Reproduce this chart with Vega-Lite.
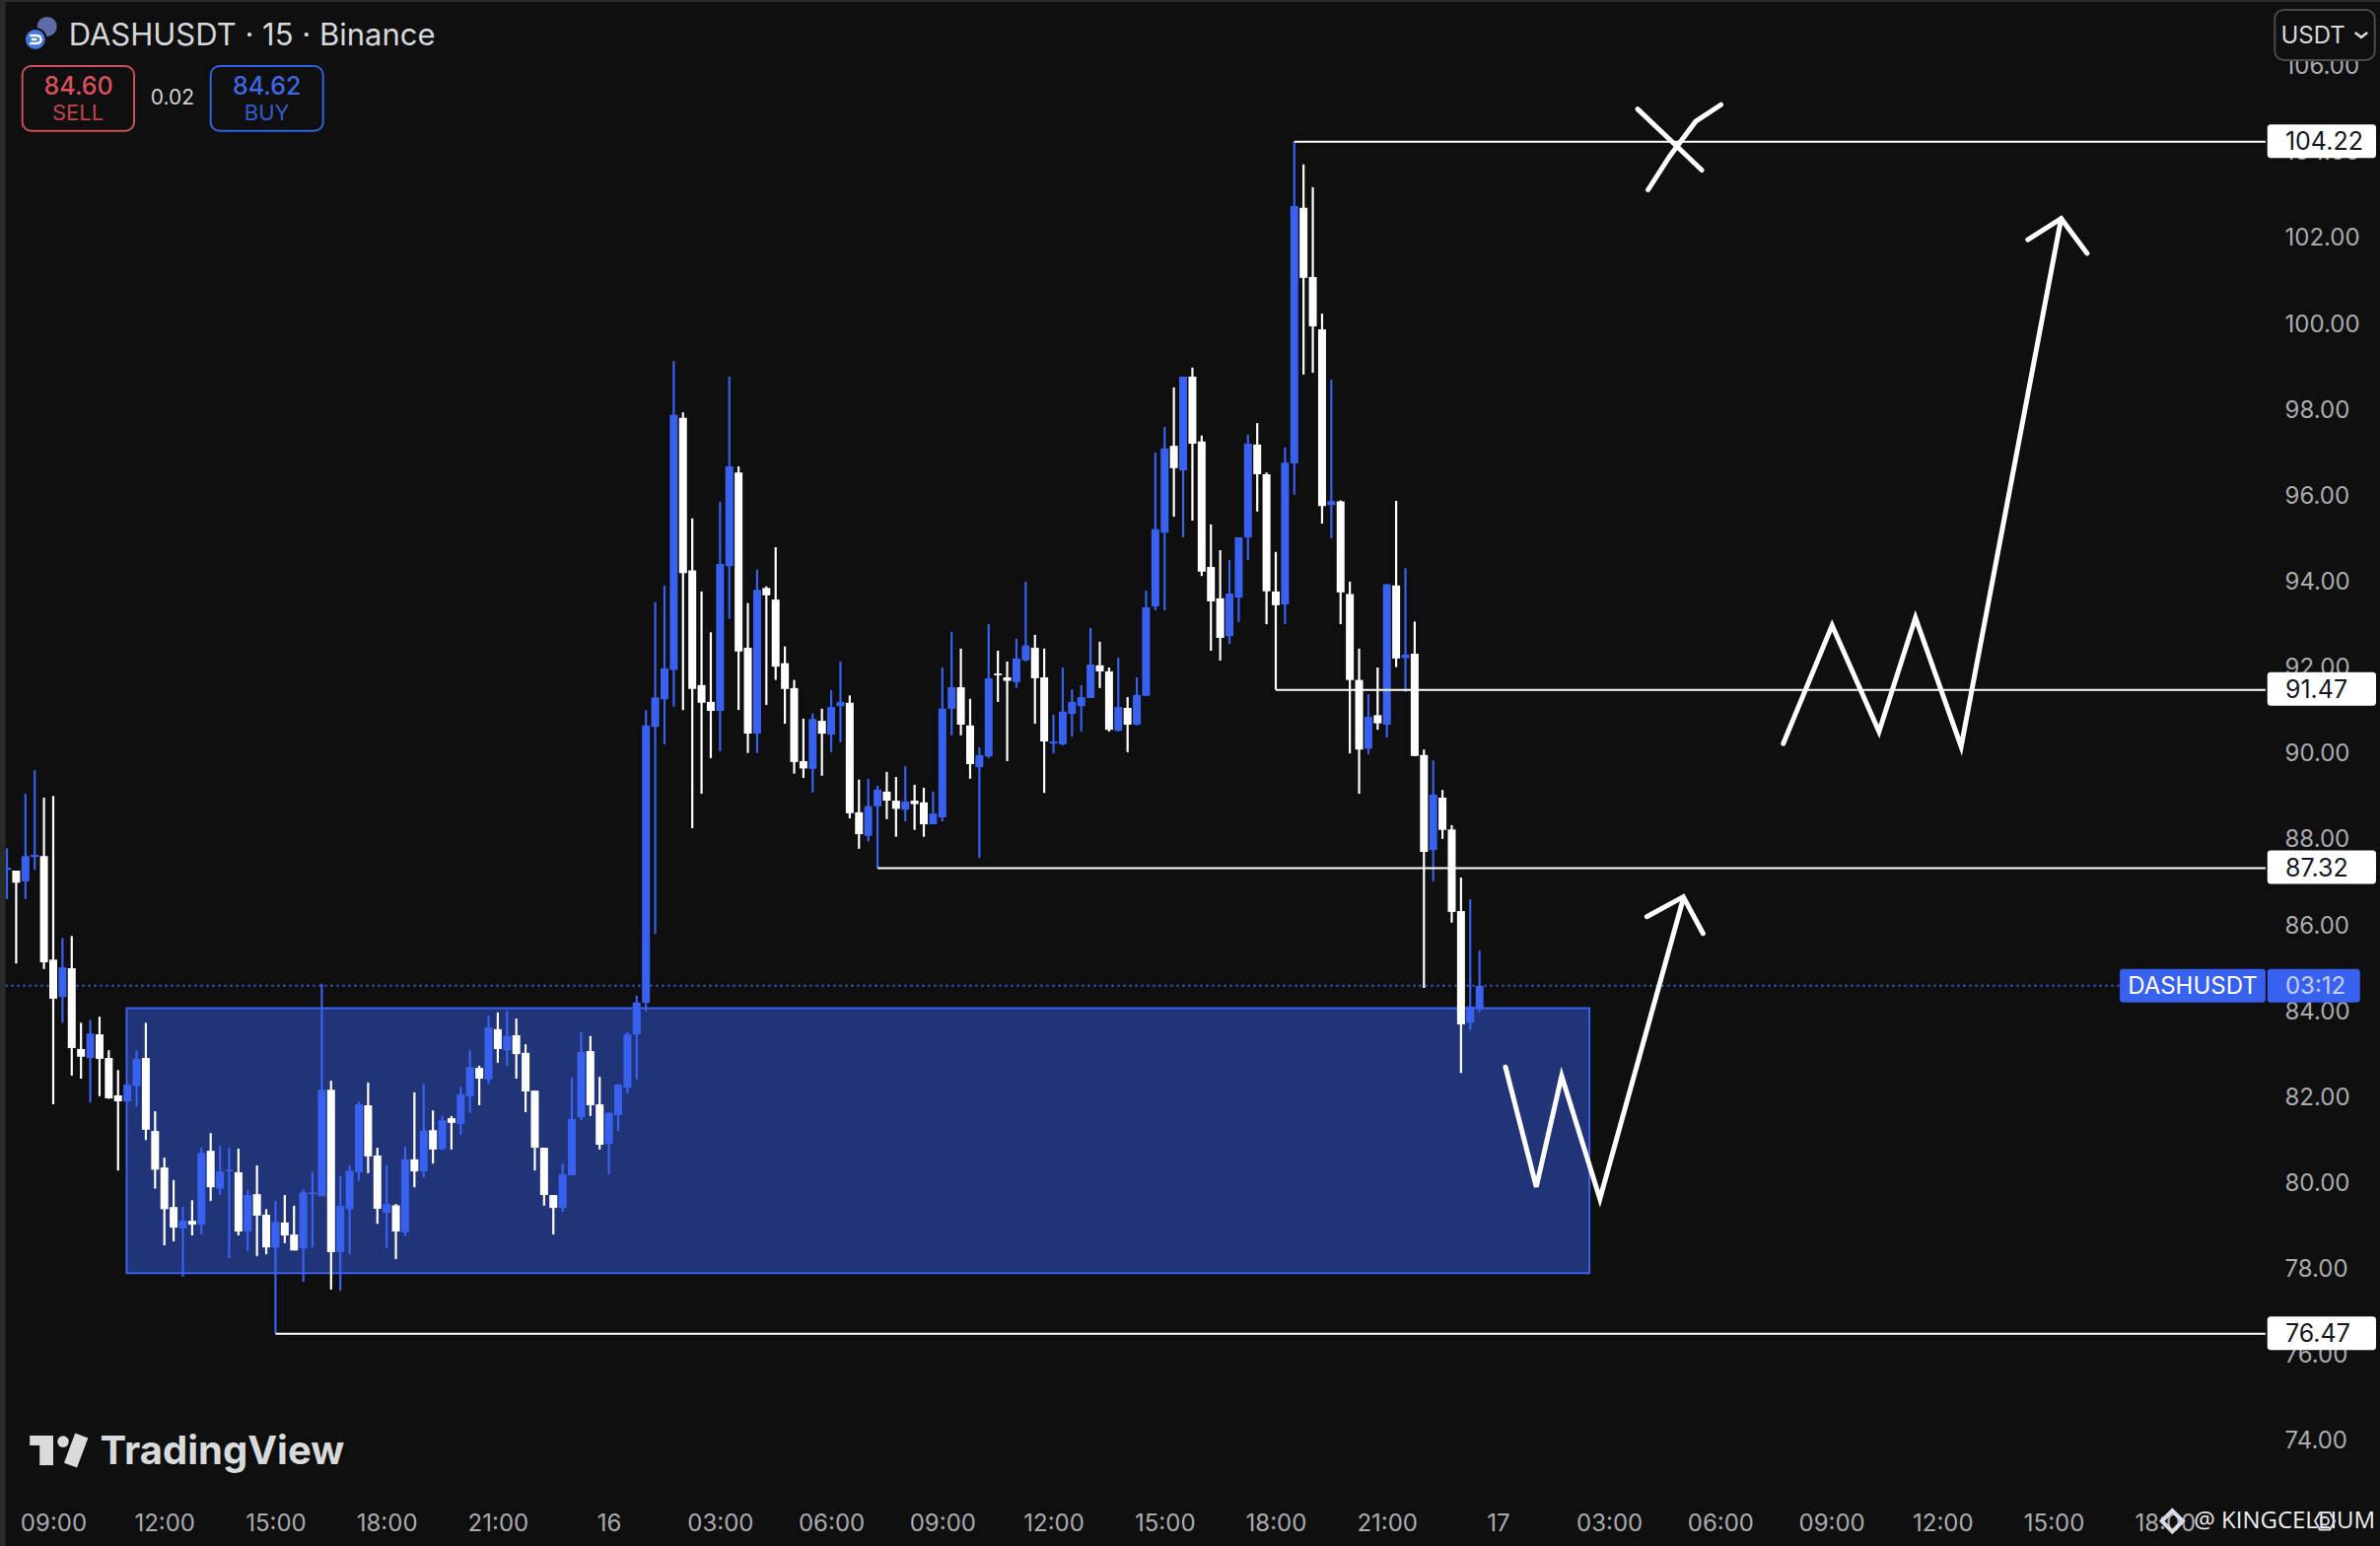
{"$schema":"https://vega.github.io/schema/vega-lite/v6.json","width":2414,"height":1568,"padding":0,"autosize":{"type":"none"},"background":"#0f0f0f","config":{"view":{"stroke":null},"font":"Inter"},
"datasets":{"candles":[
{"t":"2025-11-15T07:45","open":87.26,"high":87.76,"low":86.58,"close":87.31},
{"t":"2025-11-15T08:00","open":87.24,"high":87.24,"low":85.08,"close":86.96},
{"t":"2025-11-15T08:15","open":86.99,"high":89.03,"low":86.58,"close":87.58},
{"t":"2025-11-15T08:30","open":87.56,"high":89.58,"low":87.26,"close":87.61},
{"t":"2025-11-15T08:45","open":87.58,"high":88.94,"low":84.95,"close":85.11},
{"t":"2025-11-15T09:00","open":85.17,"high":88.98,"low":81.80,"close":84.26},
{"t":"2025-11-15T09:15","open":84.30,"high":85.67,"low":83.70,"close":84.99},
{"t":"2025-11-15T09:30","open":84.97,"high":85.72,"low":82.47,"close":83.11},
{"t":"2025-11-15T09:45","open":83.09,"high":83.70,"low":82.40,"close":82.91},
{"t":"2025-11-15T10:00","open":82.88,"high":83.77,"low":81.84,"close":83.45},
{"t":"2025-11-15T10:15","open":83.43,"high":83.84,"low":81.99,"close":82.86},
{"t":"2025-11-15T10:30","open":82.88,"high":83.06,"low":81.93,"close":81.94},
{"t":"2025-11-15T10:45","open":82.01,"high":82.60,"low":80.26,"close":81.87},
{"t":"2025-11-15T11:00","open":81.87,"high":82.27,"low":81.87,"close":82.26},
{"t":"2025-11-15T11:15","open":82.23,"high":83.06,"low":81.75,"close":82.86},
{"t":"2025-11-15T11:30","open":82.88,"high":83.70,"low":80.97,"close":81.21},
{"t":"2025-11-15T11:45","open":81.18,"high":81.64,"low":79.84,"close":80.28},
{"t":"2025-11-15T12:00","open":80.33,"high":80.56,"low":78.52,"close":79.36},
{"t":"2025-11-15T12:15","open":79.41,"high":80.04,"low":78.61,"close":78.93},
{"t":"2025-11-15T12:30","open":78.91,"high":79.41,"low":77.79,"close":79.09},
{"t":"2025-11-15T12:45","open":79.09,"high":79.57,"low":78.75,"close":79.00},
{"t":"2025-11-15T13:00","open":79.00,"high":80.80,"low":78.77,"close":80.67},
{"t":"2025-11-15T13:15","open":80.72,"high":81.13,"low":79.55,"close":79.87},
{"t":"2025-11-15T13:30","open":79.84,"high":80.83,"low":79.69,"close":80.24},
{"t":"2025-11-15T13:45","open":80.24,"high":80.79,"low":78.22,"close":80.28},
{"t":"2025-11-15T14:00","open":80.22,"high":80.77,"low":78.75,"close":78.84},
{"t":"2025-11-15T14:15","open":78.84,"high":79.80,"low":78.38,"close":79.69},
{"t":"2025-11-15T14:30","open":79.71,"high":80.38,"low":78.27,"close":79.21},
{"t":"2025-11-15T14:45","open":79.23,"high":79.36,"low":78.31,"close":78.47},
{"t":"2025-11-15T15:00","open":78.47,"high":79.55,"low":76.47,"close":79.06},
{"t":"2025-11-15T15:15","open":79.05,"high":79.69,"low":78.57,"close":78.75},
{"t":"2025-11-15T15:30","open":78.77,"high":79.44,"low":78.40,"close":78.40},
{"t":"2025-11-15T15:45","open":78.45,"high":79.82,"low":77.67,"close":79.75},
{"t":"2025-11-15T16:00","open":79.71,"high":80.22,"low":78.47,"close":79.75},
{"t":"2025-11-15T16:15","open":79.66,"high":84.61,"low":79.66,"close":82.14},
{"t":"2025-11-15T16:30","open":82.14,"high":82.35,"low":77.49,"close":78.36},
{"t":"2025-11-15T16:45","open":78.36,"high":80.13,"low":77.46,"close":79.44},
{"t":"2025-11-15T17:00","open":79.36,"high":80.38,"low":78.31,"close":80.26},
{"t":"2025-11-15T17:15","open":80.22,"high":81.86,"low":80.02,"close":81.80},
{"t":"2025-11-15T17:30","open":81.78,"high":82.31,"low":80.20,"close":80.59},
{"t":"2025-11-15T17:45","open":80.61,"high":80.79,"low":79.02,"close":79.37},
{"t":"2025-11-15T18:00","open":79.28,"high":80.38,"low":78.45,"close":79.48},
{"t":"2025-11-15T18:15","open":79.45,"high":79.48,"low":78.20,"close":78.84},
{"t":"2025-11-15T18:30","open":78.82,"high":80.81,"low":78.73,"close":80.52},
{"t":"2025-11-15T18:45","open":80.52,"high":82.08,"low":79.87,"close":80.24},
{"t":"2025-11-15T19:00","open":80.24,"high":82.28,"low":80.10,"close":81.19},
{"t":"2025-11-15T19:15","open":81.20,"high":81.66,"low":80.42,"close":80.75},
{"t":"2025-11-15T19:30","open":80.76,"high":81.53,"low":80.73,"close":81.43},
{"t":"2025-11-15T19:45","open":81.48,"high":81.53,"low":80.75,"close":81.37},
{"t":"2025-11-15T20:00","open":81.34,"high":82.21,"low":81.09,"close":82.03},
{"t":"2025-11-15T20:15","open":81.99,"high":83.06,"low":81.60,"close":82.67},
{"t":"2025-11-15T20:30","open":82.65,"high":82.70,"low":81.78,"close":82.40},
{"t":"2025-11-15T20:45","open":82.38,"high":83.87,"low":82.28,"close":83.59},
{"t":"2025-11-15T21:00","open":83.55,"high":83.94,"low":82.77,"close":83.09},
{"t":"2025-11-15T21:15","open":83.06,"high":83.98,"low":82.70,"close":83.39},
{"t":"2025-11-15T21:30","open":83.41,"high":83.80,"low":82.40,"close":82.97},
{"t":"2025-11-15T21:45","open":83.00,"high":83.20,"low":81.62,"close":82.10},
{"t":"2025-11-15T22:00","open":82.12,"high":82.12,"low":80.26,"close":80.79},
{"t":"2025-11-15T22:15","open":80.79,"high":80.79,"low":79.44,"close":79.69},
{"t":"2025-11-15T22:30","open":79.69,"high":79.69,"low":78.77,"close":79.39},
{"t":"2025-11-15T22:45","open":79.39,"high":80.42,"low":79.30,"close":80.17},
{"t":"2025-11-15T23:00","open":80.15,"high":82.42,"low":80.15,"close":81.46},
{"t":"2025-11-15T23:15","open":81.50,"high":83.48,"low":81.43,"close":83.02},
{"t":"2025-11-15T23:30","open":83.04,"high":83.39,"low":81.53,"close":81.78},
{"t":"2025-11-15T23:45","open":81.80,"high":82.44,"low":80.75,"close":80.86},
{"t":"2025-11-16T00:00","open":80.88,"high":81.62,"low":80.17,"close":81.60},
{"t":"2025-11-16T00:15","open":81.55,"high":82.28,"low":81.18,"close":82.26},
{"t":"2025-11-16T00:30","open":82.19,"high":83.48,"low":82.05,"close":83.43},
{"t":"2025-11-16T00:45","open":83.43,"high":84.33,"low":82.38,"close":84.17},
{"t":"2025-11-16T01:00","open":84.16,"high":90.98,"low":83.97,"close":90.62},
{"t":"2025-11-16T01:15","open":90.59,"high":93.49,"low":85.77,"close":91.27},
{"t":"2025-11-16T01:30","open":91.23,"high":93.88,"low":90.18,"close":91.95},
{"t":"2025-11-16T01:45","open":91.91,"high":99.10,"low":91.06,"close":97.85},
{"t":"2025-11-16T02:00","open":97.78,"high":97.91,"low":90.98,"close":94.17},
{"t":"2025-11-16T02:15","open":94.23,"high":95.44,"low":88.23,"close":91.47},
{"t":"2025-11-16T02:30","open":91.56,"high":93.74,"low":89.03,"close":91.15},
{"t":"2025-11-16T02:45","open":91.17,"high":92.79,"low":89.86,"close":90.96},
{"t":"2025-11-16T03:00","open":90.96,"high":95.83,"low":90.02,"close":94.38},
{"t":"2025-11-16T03:15","open":94.33,"high":98.74,"low":93.10,"close":96.65},
{"t":"2025-11-16T03:30","open":96.51,"high":96.65,"low":90.98,"close":92.34},
{"t":"2025-11-16T03:45","open":92.43,"high":93.47,"low":89.98,"close":90.43},
{"t":"2025-11-16T04:00","open":90.43,"high":94.25,"low":89.98,"close":93.78},
{"t":"2025-11-16T04:15","open":93.82,"high":93.86,"low":91.10,"close":93.65},
{"t":"2025-11-16T04:30","open":93.55,"high":94.77,"low":91.68,"close":91.99},
{"t":"2025-11-16T04:45","open":92.07,"high":92.46,"low":90.66,"close":91.47},
{"t":"2025-11-16T05:00","open":91.49,"high":91.68,"low":89.50,"close":89.77},
{"t":"2025-11-16T05:15","open":89.79,"high":90.78,"low":89.40,"close":89.62},
{"t":"2025-11-16T05:30","open":89.61,"high":90.90,"low":89.06,"close":90.77},
{"t":"2025-11-16T05:45","open":90.73,"high":91.01,"low":89.45,"close":90.43},
{"t":"2025-11-16T06:00","open":90.41,"high":91.44,"low":90.00,"close":91.05},
{"t":"2025-11-16T06:15","open":91.07,"high":92.11,"low":90.23,"close":91.17},
{"t":"2025-11-16T06:30","open":91.15,"high":91.32,"low":88.46,"close":88.58},
{"t":"2025-11-16T06:45","open":88.60,"high":89.36,"low":87.75,"close":88.09},
{"t":"2025-11-16T07:00","open":88.05,"high":89.38,"low":87.92,"close":88.74},
{"t":"2025-11-16T07:15","open":88.74,"high":89.22,"low":87.30,"close":89.13},
{"t":"2025-11-16T07:30","open":89.08,"high":89.54,"low":88.44,"close":88.87},
{"t":"2025-11-16T07:45","open":88.87,"high":89.42,"low":88.03,"close":88.68},
{"t":"2025-11-16T08:00","open":88.66,"high":89.67,"low":88.39,"close":88.85},
{"t":"2025-11-16T08:15","open":88.87,"high":89.24,"low":88.19,"close":88.79},
{"t":"2025-11-16T08:30","open":88.83,"high":89.17,"low":88.03,"close":88.32},
{"t":"2025-11-16T08:45","open":88.32,"high":89.08,"low":88.32,"close":88.57},
{"t":"2025-11-16T09:00","open":88.48,"high":91.97,"low":88.39,"close":91.01},
{"t":"2025-11-16T09:15","open":91.01,"high":92.80,"low":90.39,"close":91.51},
{"t":"2025-11-16T09:30","open":91.51,"high":92.41,"low":90.39,"close":90.64},
{"t":"2025-11-16T09:45","open":90.62,"high":91.24,"low":89.38,"close":89.72},
{"t":"2025-11-16T10:00","open":89.65,"high":90.11,"low":87.54,"close":89.93},
{"t":"2025-11-16T10:15","open":89.90,"high":92.98,"low":89.86,"close":91.72},
{"t":"2025-11-16T10:30","open":91.83,"high":92.36,"low":91.17,"close":91.79},
{"t":"2025-11-16T10:45","open":91.74,"high":92.11,"low":89.79,"close":91.66},
{"t":"2025-11-16T11:00","open":91.63,"high":92.64,"low":91.49,"close":92.18},
{"t":"2025-11-16T11:15","open":92.14,"high":93.97,"low":92.11,"close":92.48},
{"t":"2025-11-16T11:30","open":92.43,"high":92.73,"low":90.66,"close":91.72},
{"t":"2025-11-16T11:45","open":91.74,"high":92.41,"low":89.05,"close":90.25},
{"t":"2025-11-16T12:00","open":90.20,"high":90.87,"low":89.97,"close":90.25},
{"t":"2025-11-16T12:15","open":90.18,"high":91.97,"low":90.16,"close":90.94},
{"t":"2025-11-16T12:30","open":90.89,"high":91.46,"low":90.36,"close":91.17},
{"t":"2025-11-16T12:45","open":91.07,"high":91.56,"low":90.48,"close":91.28},
{"t":"2025-11-16T13:00","open":91.26,"high":92.89,"low":91.26,"close":92.04},
{"t":"2025-11-16T13:15","open":92.02,"high":92.57,"low":91.49,"close":91.88},
{"t":"2025-11-16T13:30","open":91.88,"high":91.97,"low":90.48,"close":90.52},
{"t":"2025-11-16T13:45","open":90.50,"high":92.20,"low":90.48,"close":91.05},
{"t":"2025-11-16T14:00","open":91.03,"high":91.28,"low":90.00,"close":90.64},
{"t":"2025-11-16T14:15","open":90.64,"high":91.74,"low":90.62,"close":91.33},
{"t":"2025-11-16T14:30","open":91.31,"high":93.76,"low":91.31,"close":93.37},
{"t":"2025-11-16T14:45","open":93.39,"high":96.97,"low":93.30,"close":95.19},
{"t":"2025-11-16T15:00","open":95.11,"high":97.57,"low":93.30,"close":97.07},
{"t":"2025-11-16T15:15","open":97.13,"high":98.49,"low":95.48,"close":96.61},
{"t":"2025-11-16T15:30","open":96.56,"high":98.74,"low":95.00,"close":98.74},
{"t":"2025-11-16T15:45","open":98.74,"high":98.95,"low":95.39,"close":97.18},
{"t":"2025-11-16T16:00","open":97.23,"high":97.37,"low":94.10,"close":94.20},
{"t":"2025-11-16T16:15","open":94.31,"high":95.30,"low":92.36,"close":93.51},
{"t":"2025-11-16T16:30","open":93.58,"high":94.70,"low":92.13,"close":92.66},
{"t":"2025-11-16T16:45","open":92.70,"high":94.47,"low":92.52,"close":93.69},
{"t":"2025-11-16T17:00","open":93.60,"high":95.00,"low":93.03,"close":95.00},
{"t":"2025-11-16T17:15","open":95.00,"high":97.39,"low":94.47,"close":97.18},
{"t":"2025-11-16T17:30","open":97.16,"high":97.66,"low":95.60,"close":96.47},
{"t":"2025-11-16T17:45","open":96.47,"high":96.51,"low":92.98,"close":93.74},
{"t":"2025-11-16T18:00","open":93.74,"high":94.66,"low":91.45,"close":93.42},
{"t":"2025-11-16T18:15","open":93.44,"high":97.09,"low":92.98,"close":96.74},
{"t":"2025-11-16T18:30","open":96.72,"high":104.22,"low":95.99,"close":102.71},
{"t":"2025-11-16T18:45","open":102.67,"high":103.68,"low":98.79,"close":101.04},
{"t":"2025-11-16T19:00","open":101.06,"high":103.15,"low":98.83,"close":99.91},
{"t":"2025-11-16T19:15","open":99.84,"high":100.21,"low":95.32,"close":95.73},
{"t":"2025-11-16T19:30","open":95.75,"high":98.67,"low":94.98,"close":95.84},
{"t":"2025-11-16T19:45","open":95.84,"high":95.86,"low":92.98,"close":93.72},
{"t":"2025-11-16T20:00","open":93.68,"high":93.97,"low":89.97,"close":91.68},
{"t":"2025-11-16T20:15","open":91.68,"high":92.41,"low":89.03,"close":90.06},
{"t":"2025-11-16T20:30","open":90.08,"high":91.35,"low":89.95,"close":90.82},
{"t":"2025-11-16T20:45","open":90.86,"high":91.97,"low":90.52,"close":90.67},
{"t":"2025-11-16T21:00","open":90.64,"high":93.91,"low":90.34,"close":93.91},
{"t":"2025-11-16T21:15","open":93.88,"high":95.85,"low":91.98,"close":92.18},
{"t":"2025-11-16T21:30","open":92.19,"high":94.28,"low":91.40,"close":92.27},
{"t":"2025-11-16T21:45","open":92.29,"high":93.04,"low":89.91,"close":89.91},
{"t":"2025-11-16T22:00","open":89.93,"high":90.06,"low":84.51,"close":87.68},
{"t":"2025-11-16T22:15","open":87.72,"high":89.81,"low":86.99,"close":89.01},
{"t":"2025-11-16T22:30","open":88.94,"high":89.12,"low":87.98,"close":88.19},
{"t":"2025-11-16T22:45","open":88.20,"high":88.30,"low":86.03,"close":86.28},
{"t":"2025-11-16T23:00","open":86.30,"high":87.08,"low":82.53,"close":83.66},
{"t":"2025-11-16T23:15","open":83.70,"high":86.57,"low":83.53,"close":84.08},
{"t":"2025-11-16T23:30","open":84.02,"high":85.38,"low":83.95,"close":84.56}
]},
"encoding":{"x":{"field":"t","type":"temporal","title":null,"scale":{"nice":false,"padding":0,"domain":[{"year":2025,"month":11,"date":15,"hours":7,"minutes":33,"seconds":48},{"year":2025,"month":11,"date":17,"hours":23,"minutes":48,"seconds":24}]},"axis":{"orient":"bottom","title":null,"domain":false,"ticks":false,"grid":false,"labelColor":"#a9abb0","labelFont":"Inter","labelFontSize":24,"labelPadding":-23,"labelBaseline":"middle","labelAlign":"center","labelOverlap":false,"labelBound":false,"labelFlush":false,"values":[{"year":2025,"month":11,"date":15,"hours":9},{"year":2025,"month":11,"date":15,"hours":12},{"year":2025,"month":11,"date":15,"hours":15},{"year":2025,"month":11,"date":15,"hours":18},{"year":2025,"month":11,"date":15,"hours":21},{"year":2025,"month":11,"date":16,"hours":0},{"year":2025,"month":11,"date":16,"hours":3},{"year":2025,"month":11,"date":16,"hours":6},{"year":2025,"month":11,"date":16,"hours":9},{"year":2025,"month":11,"date":16,"hours":12},{"year":2025,"month":11,"date":16,"hours":15},{"year":2025,"month":11,"date":16,"hours":18},{"year":2025,"month":11,"date":16,"hours":21},{"year":2025,"month":11,"date":17,"hours":0},{"year":2025,"month":11,"date":17,"hours":3},{"year":2025,"month":11,"date":17,"hours":6},{"year":2025,"month":11,"date":17,"hours":9},{"year":2025,"month":11,"date":17,"hours":12},{"year":2025,"month":11,"date":17,"hours":15},{"year":2025,"month":11,"date":17,"hours":18}],"labelExpr":"hours(datum.value)==0 ? timeFormat(datum.value,'%-d') : timeFormat(datum.value,'%H:%M')"}},
"y":{"field":"p","type":"quantitative","title":null,"scale":{"domain":[71.52,107.508],"nice":false,"zero":false},"axis":{"orient":"right","title":null,"domain":false,"ticks":false,"grid":false,"labelColor":"#a9abb0","labelFont":"Inter","labelFontSize":24,"labelPadding":-97,"labelOffset":2,"labelAlign":"left","labelBaseline":"middle","labelOverlap":false,"labelBound":false,"labelFlush":false,"format":".2f","values":[74,76,78,80,82,84,86,88,90,92,94,96,98,100,102,104,106]}}},
"layer":[
{"data":{"values":[{"t":"2025-11-15T10:59","t2":"2025-11-17T02:28","p":84.04,"p2":77.87}]},"mark":{"type":"rect","fill":"#213478","stroke":"#3861f0","strokeWidth":2},"encoding":{"x2":{"field":"t2"},"y2":{"field":"p2"}}},
{"data":{"values":[{"t":"2025-11-15T07:33","t2":"2025-11-17T16:47","p":84.56}]},"mark":{"type":"rule","color":"#3861f0","strokeWidth":2,"strokeDash":[2,4]},"encoding":{"x2":{"field":"t2"}}},
{"data":{"name":"candles"},"mark":{"type":"rule","strokeWidth":2.2},"encoding":{"y":{"field":"low","type":"quantitative","title":null,"axis":{"orient":"right","title":null,"domain":false,"ticks":false,"grid":false,"labelColor":"#a9abb0","labelFont":"Inter","labelFontSize":24,"labelPadding":-97,"labelOffset":2,"labelAlign":"left","labelBaseline":"middle","labelOverlap":false,"labelBound":false,"labelFlush":false,"format":".2f","values":[74,76,78,80,82,84,86,88,90,92,94,96,98,100,102,104,106]}},"y2":{"field":"high"},"color":{"condition":{"test":"datum.close>=datum.open","value":"#3861f0"},"value":"#ffffff"}}},
{"data":{"name":"candles"},"mark":{"type":"bar","size":8},"encoding":{"y":{"field":"open","type":"quantitative","title":null,"axis":{"orient":"right","title":null,"domain":false,"ticks":false,"grid":false,"labelColor":"#a9abb0","labelFont":"Inter","labelFontSize":24,"labelPadding":-97,"labelOffset":2,"labelAlign":"left","labelBaseline":"middle","labelOverlap":false,"labelBound":false,"labelFlush":false,"format":".2f","values":[74,76,78,80,82,84,86,88,90,92,94,96,98,100,102,104,106]}},"y2":{"field":"close"},"color":{"condition":{"test":"datum.close>=datum.open","value":"#3861f0"},"value":"#ffffff"}}},
{"data":{"values":[{"t":"2025-11-16T18:30","t2":"2025-11-17T20:43","p":104.21},{"t":"2025-11-16T18:00","t2":"2025-11-17T20:43","p":91.45},{"t":"2025-11-16T07:15","t2":"2025-11-17T20:43","p":87.30},{"t":"2025-11-15T15:00","t2":"2025-11-17T20:43","p":76.46}]},"mark":{"type":"rule","color":"#ffffff","strokeWidth":2},"encoding":{"x2":{"field":"t2"}}},
{"data":{"values":[{"t":"2025-11-17T20:46","t2":"2025-11-17T23:42","p":104.61,"p2":103.83},{"t":"2025-11-17T20:46","t2":"2025-11-17T23:42","p":91.86,"p2":91.08},{"t":"2025-11-17T20:46","t2":"2025-11-17T23:42","p":87.71,"p2":86.93},{"t":"2025-11-17T20:46","t2":"2025-11-17T23:42","p":76.86,"p2":76.08}]},"mark":{"type":"rect","fill":"#ffffff","cornerRadius":3},"encoding":{"x2":{"field":"t2"},"y2":{"field":"p2"}}},
{"data":{"values":[{"t":"2025-11-17T21:15","p":104.22,"label":"104.22"},{"t":"2025-11-17T21:15","p":91.47,"label":"91.47"},{"t":"2025-11-17T21:15","p":87.32,"label":"87.32"},{"t":"2025-11-17T21:15","p":76.47,"label":"76.47"}]},"mark":{"type":"text","color":"#131722","font":"Inter","fontSize":25,"align":"left","baseline":"middle","dy":1},"encoding":{"text":{"field":"label"}}},
{"data":{"values":[{"t":"2025-11-17T16:47","t2":"2025-11-17T20:43","p":84.95,"p2":84.17},{"t":"2025-11-17T20:46","t2":"2025-11-17T23:16","p":84.95,"p2":84.17}]},"mark":{"type":"rect","fill":"#3861f0","cornerRadius":3},"encoding":{"x2":{"field":"t2"},"y2":{"field":"p2"}}},
{"data":{"values":[{"t":"2025-11-17T18:45","p":84.56,"label":"DASHUSDT"}]},"mark":{"type":"text","color":"#ffffff","font":"Inter","fontSize":24,"align":"center","baseline":"middle","dy":1},"encoding":{"text":{"field":"label"}}},
{"data":{"values":[{"t":"2025-11-17T21:15","p":84.56,"label":"03:12"}]},"mark":{"type":"text","color":"#c4cff2","font":"Inter","fontSize":24,"align":"left","baseline":"middle","dy":1},"encoding":{"text":{"field":"label"}}},
{"data":{"values":[
{"s":"x1","n":1,"t":"2025-11-17T03:46","p":104.97},{"s":"x1","n":2,"t":"2025-11-17T04:38","p":104.26},{"s":"x1","n":3,"t":"2025-11-17T05:30","p":103.55},
{"s":"x2","n":1,"t":"2025-11-17T04:03","p":103.09},{"s":"x2","n":2,"t":"2025-11-17T04:38","p":103.87},{"s":"x2","n":3,"t":"2025-11-17T05:20","p":104.68},{"s":"x2","n":4,"t":"2025-11-17T06:01","p":105.07},
{"s":"z1","n":1,"t":"2025-11-17T00:12","p":82.67},{"s":"z1","n":2,"t":"2025-11-17T01:02","p":79.88},{"s":"z1","n":3,"t":"2025-11-17T01:43","p":82.46},{"s":"z1","n":4,"t":"2025-11-17T02:45","p":79.60},{"s":"z1","n":5,"t":"2025-11-17T05:00","p":86.59},
{"s":"h1","n":1,"t":"2025-11-17T04:01","p":86.17},{"s":"h1","n":2,"t":"2025-11-17T05:00","p":86.63},{"s":"h1","n":3,"t":"2025-11-17T05:32","p":85.78},
{"s":"z2","n":1,"t":"2025-11-17T07:42","p":90.20},{"s":"z2","n":2,"t":"2025-11-17T09:01","p":92.95},{"s":"z2","n":3,"t":"2025-11-17T10:17","p":90.48},{"s":"z2","n":4,"t":"2025-11-17T11:16","p":93.13},{"s":"z2","n":5,"t":"2025-11-17T12:30","p":90.13},{"s":"z2","n":6,"t":"2025-11-17T15:12","p":102.42},
{"s":"h2","n":1,"t":"2025-11-17T14:18","p":101.93},{"s":"h2","n":2,"t":"2025-11-17T15:12","p":102.42},{"s":"h2","n":3,"t":"2025-11-17T15:54","p":101.61}
]},"mark":{"type":"line","color":"#ffffff","strokeWidth":5,"strokeCap":"round","strokeJoin":"miter"},"encoding":{"detail":{"field":"s"},"order":{"field":"n"}}},
{"data":{"values":[{"t":"2025-11-15T07:33","t2":"2025-11-15T07:43","p":107.508,"p2":71.52},{"t":"2025-11-15T07:33","t2":"2025-11-17T23:49","p":107.508,"p2":107.46}]},"mark":{"type":"rect","fill":"#2a2a2a"},"encoding":{"x2":{"field":"t2"},"y2":{"field":"p2"}}},
{"data":{"values":[{"t":"2025-11-15T09:25","p":106.66,"label":"DASHUSDT · 15 · Binance"}]},"mark":{"type":"text","color":"#d6d8dc","font":"Inter","fontSize":31,"align":"left","baseline":"middle"},"encoding":{"text":{"field":"label"}}},
{"data":{"values":[{"t":"2025-11-15T08:50","p":106.89}]},"mark":{"type":"point","filled":true,"fill":"#5f6aa8","size":400,"opacity":1},"encoding":{}},
{"data":{"values":[{"t":"2025-11-15T08:31","p":106.59}]},"mark":{"type":"point","filled":true,"fill":"#3f78de","stroke":"#0f0f0f","strokeWidth":2,"size":480,"opacity":1},"encoding":{}},
{"data":{"values":[{"t":"2025-11-15T08:31","p":106.59}]},"mark":{"type":"point","shape":"M-1,-0.7L0.2,-0.7Q1,-0.7 1,0Q1,0.7 0.2,0.7L-1,0.7M-0.7,0L0.3,0","stroke":"#ffffff","strokeWidth":2.5,"size":130,"opacity":1,"fill":null},"encoding":{}},
{"data":{"values":[{"t":"2025-11-15T08:10","t2":"2025-11-15T11:11","p":105.97,"p2":104.46}]},"mark":{"type":"rect","fillOpacity":0,"stroke":"#c8505a","strokeWidth":2,"cornerRadius":9},"encoding":{"x2":{"field":"t2"},"y2":{"field":"p2"}}},
{"data":{"values":[{"t":"2025-11-15T13:15","t2":"2025-11-15T16:17","p":105.97,"p2":104.46}]},"mark":{"type":"rect","fillOpacity":0,"stroke":"#3461e0","strokeWidth":2,"cornerRadius":9},"encoding":{"x2":{"field":"t2"},"y2":{"field":"p2"}}},
{"data":{"values":[{"t":"2025-11-15T09:41","p":105.49,"label":"84.60"}]},"mark":{"type":"text","color":"#d9515d","font":"Inter","fontSize":25,"fontWeight":500,"align":"center","baseline":"middle"},"encoding":{"text":{"field":"label"}}},
{"data":{"values":[{"t":"2025-11-15T09:40","p":104.87,"label":"SELL"}]},"mark":{"type":"text","color":"#c0454f","font":"Inter","fontSize":22,"align":"center","baseline":"middle"},"encoding":{"text":{"field":"label"}}},
{"data":{"values":[{"t":"2025-11-15T12:13","p":105.21,"label":"0.02"}]},"mark":{"type":"text","color":"#d0d2d6","font":"Inter","fontSize":21,"align":"center","baseline":"middle"},"encoding":{"text":{"field":"label"}}},
{"data":{"values":[{"t":"2025-11-15T14:46","p":105.49,"label":"84.62"}]},"mark":{"type":"text","color":"#3d69e6","font":"Inter","fontSize":25,"fontWeight":500,"align":"center","baseline":"middle"},"encoding":{"text":{"field":"label"}}},
{"data":{"values":[{"t":"2025-11-15T14:46","p":104.87,"label":"BUY"}]},"mark":{"type":"text","color":"#2f5cd0","font":"Inter","fontSize":22,"align":"center","baseline":"middle"},"encoding":{"text":{"field":"label"}}},
{"data":{"values":[{"t":"2025-11-17T20:58","t2":"2025-11-17T23:40","p":107.28,"p2":106.11}]},"mark":{"type":"rect","fill":"#0f0f0f","stroke":"#4a4b4d","strokeWidth":2,"cornerRadius":9},"encoding":{"x2":{"field":"t2"},"y2":{"field":"p2"}}},
{"data":{"values":[{"t":"2025-11-17T22:00","p":106.66,"label":"USDT"}]},"mark":{"type":"text","color":"#d6d8dc","font":"Inter","fontSize":24,"align":"center","baseline":"middle"},"encoding":{"text":{"field":"label"}}},
{"data":{"values":[{"n":1,"t":"2025-11-17T23:08","p":106.75},{"n":2,"t":"2025-11-17T23:18","p":106.64},{"n":3,"t":"2025-11-17T23:28","p":106.75}]},"mark":{"type":"line","color":"#d6d8dc","strokeWidth":2.5},"encoding":{"order":{"field":"n"}}},
{"data":{"values":[{"t":"2025-11-15T10:16","p":73.70,"label":"TradingView"}]},"mark":{"type":"text","color":"#d9dadb","font":"Inter","fontSize":40,"fontWeight":700,"align":"left","baseline":"middle"},"encoding":{"text":{"field":"label"}}},
{"data":{"values":[{"t":"2025-11-15T08:22","t2":"2025-11-15T09:00","p":74.09,"p2":73.86},{"t":"2025-11-15T08:38","t2":"2025-11-15T09:00","p":74.09,"p2":73.40}]},"mark":{"type":"rect","fill":"#d9dadb"},"encoding":{"x2":{"field":"t2"},"y2":{"field":"p2"}}},
{"data":{"values":[{"t":"2025-11-15T09:16","p":73.95}]},"mark":{"type":"point","filled":true,"fill":"#d9dadb","size":133,"opacity":1},"encoding":{}},
{"data":{"values":[{"n":1,"t":"2025-11-15T09:46","p":74.09},{"n":2,"t":"2025-11-15T09:28","p":73.40}]},"mark":{"type":"line","color":"#d9dadb","strokeWidth":14,"strokeCap":"butt"},"encoding":{"order":{"field":"n"}}},
{"data":{"values":[{"t":"2025-11-17T18:12","p":72.10}]},"mark":{"type":"point","shape":"diamond","filled":false,"fill":null,"stroke":"#d8dce8","strokeWidth":4,"size":450,"opacity":1},"encoding":{}},
{"data":{"values":[{"t":"2025-11-17T18:47","p":72.10,"label":"@ KINGCELLIUM"}]},"mark":{"type":"text","color":"#eeeeee","font":"Open Sans","fontSize":24,"align":"left","baseline":"middle"},"encoding":{"text":{"field":"label"}}},
{"data":{"values":[{"t":"2025-11-17T22:19","p":72.10}]},"mark":{"type":"point","shape":"M-1,0L-0.5,-0.87L0.5,-0.87L1,0L0.5,0.87L-0.5,0.87Z","filled":false,"fill":null,"stroke":"#d8dce8","strokeWidth":2,"size":400,"opacity":1},"encoding":{}},
{"data":{"values":[{"t":"2025-11-17T22:19","p":72.10}]},"mark":{"type":"point","filled":false,"fill":null,"stroke":"#d8dce8","strokeWidth":2,"size":60,"opacity":1},"encoding":{}}
]}
